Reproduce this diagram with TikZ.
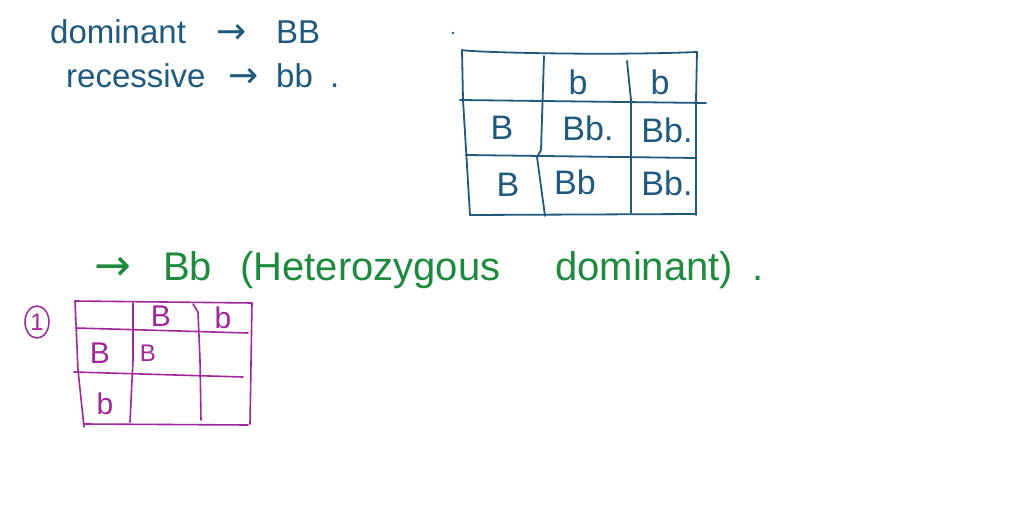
\documentclass[tikz,border=0pt]{standalone}
\usepackage{fontspec}
\usetikzlibrary{shapes.geometric}
\setmainfont{Liberation Sans}
\newfontfamily\arrowfont{DejaVu Sans}
\definecolor{inkblue}{HTML}{1F5A7E}
\definecolor{inkgreen}{HTML}{1E8A3E}
\definecolor{inkmag}{HTML}{A1279B}
\tikzset{
  blueline/.style={draw=inkblue, line width=1.8pt, line cap=round, line join=round},
  magline/.style={draw=inkmag, line width=1.6pt, line cap=round, line join=round},
  bluetxt/.style={text=inkblue, font=\fontsize{33}{36}\selectfont, inner sep=0pt},
  bluearrow/.style={text=inkblue, font=\arrowfont\fontsize{36}{38}\selectfont, inner sep=0pt, anchor=base west},
  celltxt/.style={text=inkblue, font=\fontsize{34}{38}\selectfont, inner sep=0pt},
  greentxt/.style={text=inkgreen, font=\fontsize{40}{44}\selectfont, inner sep=0pt, anchor=base west},
  magtxt/.style={text=inkmag, font=\fontsize{30}{34}\selectfont, inner sep=0pt},
}
\begin{document}
\begin{tikzpicture}[x=1pt,y=-1pt]
\useasboundingbox[fill=white] (0,0) rectangle (1024,516);

% top-left notes
\node[bluetxt, anchor=base west] (dom) at (50,44) {dominant};
\node[bluearrow] (domarr) at (216,44) {→};
\node[bluetxt, anchor=base west] (domBB) at (276,44) {BB};
\node[bluetxt, anchor=base west] (rec) at (66,88) {recessive};
\node[bluearrow] (recarr) at (228,88) {→};
\node[bluetxt, anchor=base west] (recbb) at (276,88) {bb};
\node[bluetxt, anchor=base west] (recdot) at (330,88) {.};

% stray dot
\node[circle, fill=inkblue, inner sep=1pt] (dot) at (453,33) {};

% top Punnett square
\draw[blueline] (462,50) .. controls (466,52) and (600,56) .. (697,52);
\draw[blueline] (462,50) -- (463,100) -- (470,215);
\draw[blueline] (697,52) -- (696,100) -- (696,215);
\draw[blueline] (470,215) -- (696,214);
\draw[blueline] (460,100) -- (706,103);
\draw[blueline] (466,155) -- (696,158);
\draw[blueline] (544,56) -- (541,150) -- (537,157) -- (545,216);
\draw[blueline] (627,61) -- (631,100) -- (631,213);

\node[celltxt] (h1) at (578,82) {b};
\node[celltxt] (h2) at (660,82) {b};
\node[celltxt] (r1) at (502,128) {B};
\node[celltxt] (c11) at (588,128) {Bb.};
\node[celltxt] (c12) at (667,130) {Bb.};
\node[celltxt] (r2) at (508,185) {B};
\node[celltxt] (c21) at (575,182) {Bb};
\node[celltxt] (c22) at (667,183) {Bb.};

% green line
\node[greentxt, font=\arrowfont\fontsize{44}{46}\selectfont] (arr) at (94,280) {→};
\node[greentxt] (bb) at (163,280) {Bb};
\node[greentxt] (het) at (240,280) {(Heterozygous};
\node[greentxt] (domi) at (555,280) {dominant)};
\node[greentxt] (gdot) at (752,280) {.};

% circled 1
\node[draw=inkmag, line width=1.5pt, ellipse, minimum width=24pt, minimum height=32pt, inner sep=0pt, text=inkmag, font=\fontsize{24}{26}\selectfont] (one) at (37,322) {1};

% lower Punnett square
\draw[magline] (75,301) -- (252,303) -- (250,424);
\draw[magline] (75,301) -- (78,370) -- (84,427);
\draw[magline] (84,424) -- (248,425);
\draw[magline] (76,328) -- (248,333);
\draw[magline] (74,372) -- (243,377);
\draw[magline] (133,303) -- (133,360) -- (130,422);
\draw[magline] (193,304) -- (198,312) -- (200,360) -- (201,420);

\node[magtxt] (mh1) at (161,316) {B};
\node[magtxt] (mh2) at (223,318) {b};
\node[magtxt] (mr1) at (100,353) {B};
\node[magtxt, font=\fontsize{24}{26}\selectfont] (mc11) at (148,353) {B};
\node[magtxt] (mr2) at (105,404) {b};
\end{tikzpicture}
\end{document}
